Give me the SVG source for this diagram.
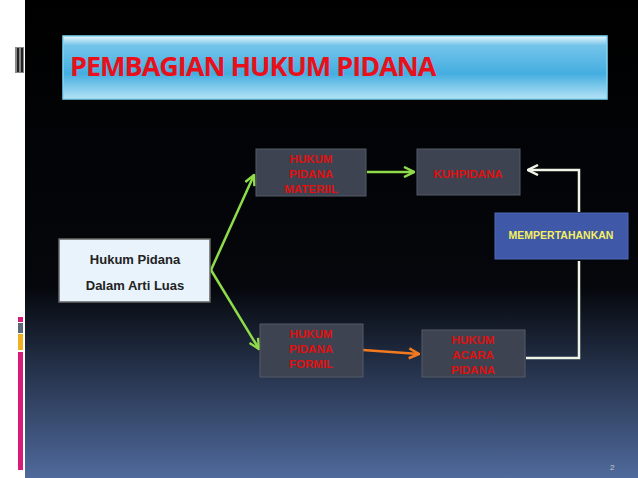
<svg xmlns="http://www.w3.org/2000/svg" width="638" height="478" viewBox="0 0 638 478">
<defs>
<linearGradient id="bg" x1="0" y1="0" x2="0" y2="1">
<stop offset="0" stop-color="#000"/><stop offset="0.6" stop-color="#05070c"/><stop offset="1" stop-color="#4f6a9c"/>
</linearGradient>
<linearGradient id="tb" x1="0" y1="0" x2="0" y2="1">
<stop offset="0" stop-color="#e8f6fc"/><stop offset="0.15" stop-color="#74c4ea"/><stop offset="0.6" stop-color="#44aee0"/><stop offset="1" stop-color="#b5e2f6"/>
</linearGradient>
<marker id="ag" viewBox="0 0 10 10" refX="9" refY="5" markerWidth="5" markerHeight="5" orient="auto"><path d="M1,1 L9,5 L1,9" fill="none" stroke="#8fdc4a" stroke-width="2"/></marker>
<marker id="ao" viewBox="0 0 10 10" refX="9" refY="5" markerWidth="5" markerHeight="5" orient="auto"><path d="M1,1 L9,5 L1,9" fill="none" stroke="#f47a20" stroke-width="2"/></marker>
<marker id="aw" viewBox="0 0 10 10" refX="9" refY="5" markerWidth="5" markerHeight="5" orient="auto"><path d="M1,1 L9,5 L1,9" fill="none" stroke="#eef5e6" stroke-width="2"/></marker>
</defs>
<style>
.box{fill:#3d4350;stroke:#555b66;stroke-width:1}
.rt{font-family:"Liberation Sans",Arial,sans-serif;font-weight:bold;font-size:11.5px;fill:#e01010;text-anchor:middle}
.g{stroke:#8fdc4a;stroke-width:2.5;fill:none}
</style>
<rect width="638" height="478" fill="#fff"/>
<rect x="25" y="0" width="613" height="478" fill="url(#bg)"/>
<rect x="15" y="47" width="9" height="26" fill="#888"/><rect x="17" y="48" width="2" height="24" fill="#222"/><rect x="21" y="48" width="2" height="24" fill="#222"/>
<rect x="18" y="317" width="5" height="5" fill="#d81b78"/>
<rect x="18" y="323" width="5" height="10" fill="#5a6878"/>
<rect x="18" y="334" width="5" height="16" fill="#f0b020"/>
<rect x="18" y="352" width="5" height="118" fill="#d81b78"/>
<g id="title">
<rect x="63" y="36" width="544" height="63" fill="url(#tb)" stroke="#7fd8f4" stroke-width="1.5"/>
<text x="70" y="76" font-family="Open Sans,sans-serif" font-weight="bold" font-size="27" fill="#e8101a" letter-spacing="-1">PEMBAGIAN HUKUM PIDANA</text>
</g>
<g id="connectors">
<path class="g" d="M211,270 L254,175" marker-end="url(#ag)"/>
<path class="g" d="M211,270 L259,349" marker-end="url(#ag)"/>
<path class="g" d="M367,172 L414,172" marker-end="url(#ag)"/>
<path d="M363,350 L419,354" stroke="#f47a20" stroke-width="2.5" fill="none" marker-end="url(#ao)"/>
<path d="M526,358 L579,358 L579,261" stroke="#eef5e6" stroke-width="2.5" fill="none"/>
<path d="M579,212 L579,170 L528,170" stroke="#eef5e6" stroke-width="2.5" fill="none" marker-end="url(#aw)"/>
</g>
<g id="hukum-pidana">
<rect x="59" y="239" width="151" height="63" fill="#e8f3fb" stroke="#666" stroke-width="1.5"/>
<text x="135" y="264" font-family="Liberation Sans,Arial,sans-serif" font-weight="bold" font-size="13" fill="#222" text-anchor="middle">Hukum Pidana</text>
<text x="135" y="290" font-family="Liberation Sans,Arial,sans-serif" font-weight="bold" font-size="13" fill="#222" text-anchor="middle">Dalam Arti Luas</text>
</g>
<g id="hpm">
<rect class="box" x="256" y="149" width="110" height="47"/>
<text class="rt" x="311" y="163">HUKUM</text><text class="rt" x="311" y="178">PIDANA</text><text class="rt" x="311" y="193">MATERIIL</text>
</g>
<g id="kuhpidana">
<rect class="box" x="417" y="149" width="103" height="46"/>
<text class="rt" x="468" y="178">KUHPIDANA</text>
</g>
<g id="mempertahankan">
<rect x="495" y="213" width="133" height="46" fill="#4058a8" stroke="#5068b8"/>
<text x="561" y="239" font-family="Liberation Sans,Arial,sans-serif" font-weight="bold" font-size="10.5" fill="#f5f060" text-anchor="middle">MEMPERTAHANKAN</text>
</g>
<g id="hpf">
<rect class="box" x="260" y="324" width="103" height="53"/>
<text class="rt" x="311" y="338">HUKUM</text><text class="rt" x="311" y="353">PIDANA</text><text class="rt" x="311" y="368">FORMIL</text>
</g>
<g id="hap">
<rect class="box" x="422" y="330" width="103" height="47"/>
<text class="rt" x="473" y="344">HUKUM</text><text class="rt" x="473" y="359">ACARA</text><text class="rt" x="473" y="374">PIDANA</text>
</g>
<text x="610" y="470" font-family="Liberation Sans,Arial,sans-serif" font-size="8" fill="#ccc">2</text>
</svg>
